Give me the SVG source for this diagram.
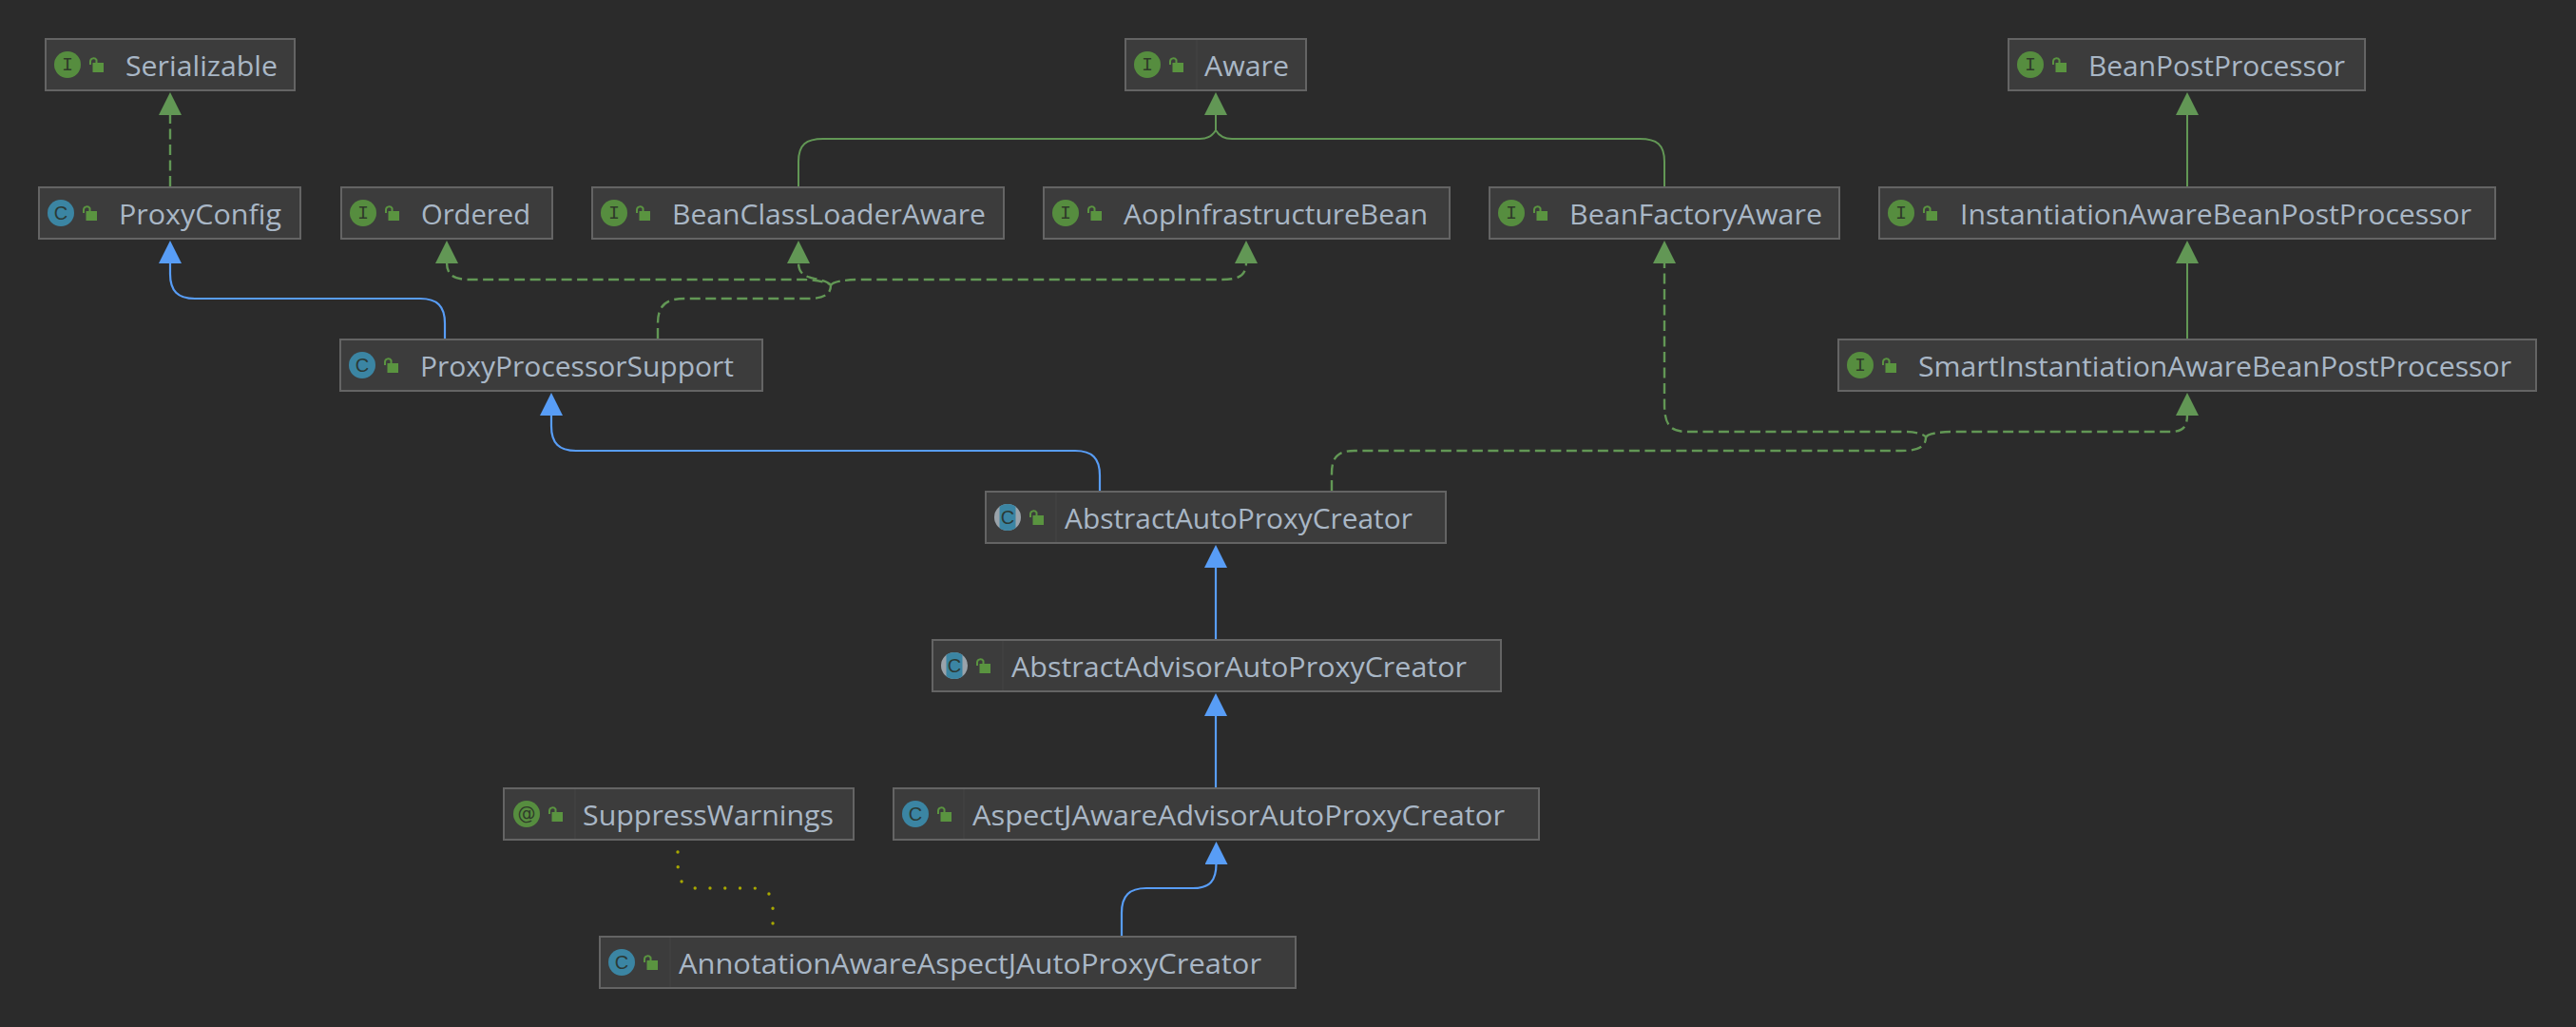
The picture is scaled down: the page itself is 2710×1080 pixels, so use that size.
<svg xmlns="http://www.w3.org/2000/svg" width="2710" height="1080" viewBox="0 0 2710 1080">
<style>
.box{fill:#3c3c3c;stroke:#646464;stroke-width:2}
.sep{stroke:#444444;stroke-width:1}
.lbl{font-family:"Open Sans","Liberation Sans",sans-serif;font-size:30px;fill:#a9b7c6}
.ico{font-size:20px;fill:#2b3a35;text-anchor:middle}
.i{font-family:"Liberation Mono",monospace;fill:#2f3b2a}
.c{font-family:"Liberation Sans",sans-serif}
.a{font-family:"DejaVu Sans",sans-serif;font-size:19px;fill:#2f3b2a}
.gs{fill:none;stroke:#629755;stroke-width:2}
.gd{fill:none;stroke:#629755;stroke-width:2.4;stroke-dasharray:11 5.5}
.bs{fill:none;stroke:#589df6;stroke-width:2.2}
.dots{fill:none;stroke:#a8a800;stroke-width:3.4;stroke-linecap:round;stroke-dasharray:0 15.78}
</style>
<defs>
<marker id="ag" markerUnits="userSpaceOnUse" markerWidth="24" markerHeight="24" viewBox="0 0 24 24" refX="1" refY="12" orient="auto"><path d="M0 0L24 12L0 24z" fill="#629755"/></marker>
<marker id="ab" markerUnits="userSpaceOnUse" markerWidth="24" markerHeight="24" viewBox="0 0 24 24" refX="1" refY="12" orient="auto"><path d="M0 0L24 12L0 24z" fill="#589df6"/></marker>
<clipPath id="ac"><rect x="-8.500" y="-14" width="17" height="28"/></clipPath>
<g id="lock"><path d="M48 28V24.500A3.500 3.500 0 0 1 54.500 23V26" fill="none" stroke="#5a9440" stroke-width="2"/><rect x="50.500" y="26" width="11.500" height="10" fill="#5a9440"/></g>
<circle id="ci" cx="24" cy="28" r="14" fill="#568d3f"/>
<circle id="cc" cx="24" cy="28" r="14" fill="#3b85a3"/>
<g id="cab"><circle cx="24" cy="28" r="14" fill="#9aa3aa"/><g transform="translate(24 28)"><circle r="14" fill="#3b85a3" clip-path="url(#ac)"/></g></g>
</defs>
<rect width="2710" height="1080" fill="#2b2b2b"/>
<g id="connectors">
<path class="gd" d="M179 196V120" marker-end="url(#ag)"/>
<path class="gs" d="M840 196V170C840 152 848 146 866 146H1262C1272 146 1276 142 1279 137V120" marker-end="url(#ag)"/>
<path class="gs" d="M1751 196V170C1751 152 1743 146 1725 146H1296C1286 146 1282 142 1279 137"/>
<path class="gs" d="M2301 196V120" marker-end="url(#ag)"/>
<path class="gs" d="M2301 356V276" marker-end="url(#ag)"/>
<path class="bs" d="M468 356V340C468 322 460 314 442 314H205C187 314 179 306 179 288V276" marker-end="url(#ab)"/>
<path class="gd" d="M692 356V340C692 322 700 314 720 314H850C866 314 874 310 874 300C874 298 860 294 845 294H495C478 294 470 290 470 276" marker-end="url(#ag)"/>
<path class="gd" d="M874 300C872 296 862 294 853 292C845 290 840 286 840 276" marker-end="url(#ag)"/>
<path class="gd" d="M874 300C876 296 890 294 905 294H1285C1303 294 1311 290 1311 276" marker-end="url(#ag)"/>
<path class="bs" d="M1157 516V500C1157 482 1149 474 1131 474H606C588 474 580 466 580 448V436" marker-end="url(#ab)"/>
<path class="gd" d="M1401 516V498C1401 480 1408 474 1425 474H2000C2018 474 2026 470 2026 460C2026 458 2018 454 2005 454H1775C1758 454 1751 448 1751 425V276" marker-end="url(#ag)"/>
<path class="gd" d="M2026 460C2028 456 2040 454 2055 454H2282C2296 454 2301 450 2301 436" marker-end="url(#ag)"/>
<path class="bs" d="M1279 672V596" marker-end="url(#ab)"/>
<path class="bs" d="M1279 828V752" marker-end="url(#ab)"/>
<path class="bs" d="M1180 984V960C1180 942 1188 934 1206 934H1255C1273 934 1279.500 926 1279.500 908" marker-end="url(#ab)"/>
<path class="dots" d="M713 896V911L717 927L731 934H794L809 940L813 955V972"/>
</g>
<g id="n-serializable"><rect class="box" x="48" y="41" width="262" height="54"/><use href="#ci" x="47" y="40"/><text class="ico i" x="71" y="74">I</text><use href="#lock" x="47" y="40"/><text class="lbl" x="132" y="80" textLength="160" lengthAdjust="spacingAndGlyphs">Serializable</text></g>
<g id="n-aware"><rect class="box" x="1184" y="41" width="190" height="54"/><line class="sep" x1="1259" y1="42" x2="1259" y2="94"/><use href="#ci" x="1183" y="40"/><text class="ico i" x="1207" y="74">I</text><use href="#lock" x="1183" y="40"/><text class="lbl" x="1267" y="80" textLength="89" lengthAdjust="spacingAndGlyphs">Aware</text></g>
<g id="n-beanpostprocessor"><rect class="box" x="2113" y="41" width="375" height="54"/><use href="#ci" x="2112" y="40"/><text class="ico i" x="2136" y="74">I</text><use href="#lock" x="2112" y="40"/><text class="lbl" x="2197" y="80" textLength="270" lengthAdjust="spacingAndGlyphs">BeanPostProcessor</text></g>
<g id="n-proxyconfig"><rect class="box" x="41" y="197" width="275" height="54"/><use href="#cc" x="40" y="196"/><text class="ico c" x="64" y="231">C</text><use href="#lock" x="40" y="196"/><text class="lbl" x="125" y="236" textLength="171" lengthAdjust="spacingAndGlyphs">ProxyConfig</text></g>
<g id="n-ordered"><rect class="box" x="359" y="197" width="222" height="54"/><use href="#ci" x="358" y="196"/><text class="ico i" x="382" y="230">I</text><use href="#lock" x="358" y="196"/><text class="lbl" x="443" y="236" textLength="115" lengthAdjust="spacingAndGlyphs">Ordered</text></g>
<g id="n-beanclassloaderaware"><rect class="box" x="623" y="197" width="433" height="54"/><use href="#ci" x="622" y="196"/><text class="ico i" x="646" y="230">I</text><use href="#lock" x="622" y="196"/><text class="lbl" x="707" y="236" textLength="330" lengthAdjust="spacingAndGlyphs">BeanClassLoaderAware</text></g>
<g id="n-aopinfrastructurebean"><rect class="box" x="1098" y="197" width="427" height="54"/><use href="#ci" x="1097" y="196"/><text class="ico i" x="1121" y="230">I</text><use href="#lock" x="1097" y="196"/><text class="lbl" x="1182" y="236" textLength="320" lengthAdjust="spacingAndGlyphs">AopInfrastructureBean</text></g>
<g id="n-beanfactoryaware"><rect class="box" x="1567" y="197" width="368" height="54"/><use href="#ci" x="1566" y="196"/><text class="ico i" x="1590" y="230">I</text><use href="#lock" x="1566" y="196"/><text class="lbl" x="1651" y="236" textLength="266" lengthAdjust="spacingAndGlyphs">BeanFactoryAware</text></g>
<g id="n-instantiation"><rect class="box" x="1977" y="197" width="648" height="54"/><use href="#ci" x="1976" y="196"/><text class="ico i" x="2000" y="230">I</text><use href="#lock" x="1976" y="196"/><text class="lbl" x="2062" y="236" textLength="538" lengthAdjust="spacingAndGlyphs">InstantiationAwareBeanPostProcessor</text></g>
<g id="n-proxyprocessorsupport"><rect class="box" x="358" y="357" width="444" height="54"/><use href="#cc" x="357" y="356"/><text class="ico c" x="381" y="391">C</text><use href="#lock" x="357" y="356"/><text class="lbl" x="442" y="396" textLength="330" lengthAdjust="spacingAndGlyphs">ProxyProcessorSupport</text></g>
<g id="n-smart"><rect class="box" x="1934" y="357" width="734" height="54"/><use href="#ci" x="1933" y="356"/><text class="ico i" x="1957" y="390">I</text><use href="#lock" x="1933" y="356"/><text class="lbl" x="2018" y="396" textLength="624" lengthAdjust="spacingAndGlyphs">SmartInstantiationAwareBeanPostProcessor</text></g>
<g id="n-abstractauto"><rect class="box" x="1037" y="517" width="484" height="54"/><line class="sep" x1="1111" y1="518" x2="1111" y2="570"/><use href="#cab" x="1036" y="516"/><text class="ico c" x="1060" y="551">C</text><use href="#lock" x="1036" y="516"/><text class="lbl" x="1120" y="556" textLength="366" lengthAdjust="spacingAndGlyphs">AbstractAutoProxyCreator</text></g>
<g id="n-abstractadvisor"><rect class="box" x="981" y="673" width="598" height="54"/><line class="sep" x1="1055" y1="674" x2="1055" y2="726"/><use href="#cab" x="980" y="672"/><text class="ico c" x="1004" y="707">C</text><use href="#lock" x="980" y="672"/><text class="lbl" x="1064" y="712" textLength="479" lengthAdjust="spacingAndGlyphs">AbstractAdvisorAutoProxyCreator</text></g>
<g id="n-suppresswarnings"><rect class="box" x="530" y="829" width="368" height="54"/><line class="sep" x1="605" y1="830" x2="605" y2="882"/><use href="#ci" x="530" y="828"/><text class="ico a" x="554" y="862">@</text><use href="#lock" x="530" y="828"/><text class="lbl" x="613" y="868" textLength="264" lengthAdjust="spacingAndGlyphs">SuppressWarnings</text></g>
<g id="n-aspectj"><rect class="box" x="940" y="829" width="679" height="54"/><line class="sep" x1="1014" y1="830" x2="1014" y2="882"/><use href="#cc" x="939" y="828"/><text class="ico c" x="963" y="863">C</text><use href="#lock" x="939" y="828"/><text class="lbl" x="1023" y="868" textLength="560" lengthAdjust="spacingAndGlyphs">AspectJAwareAdvisorAutoProxyCreator</text></g>
<g id="n-annotation"><rect class="box" x="631" y="985" width="732" height="54"/><line class="sep" x1="705" y1="986" x2="705" y2="1038"/><use href="#cc" x="630" y="984"/><text class="ico c" x="654" y="1019">C</text><use href="#lock" x="630" y="984"/><text class="lbl" x="714" y="1024" textLength="613" lengthAdjust="spacingAndGlyphs">AnnotationAwareAspectJAutoProxyCreator</text></g>
</svg>
